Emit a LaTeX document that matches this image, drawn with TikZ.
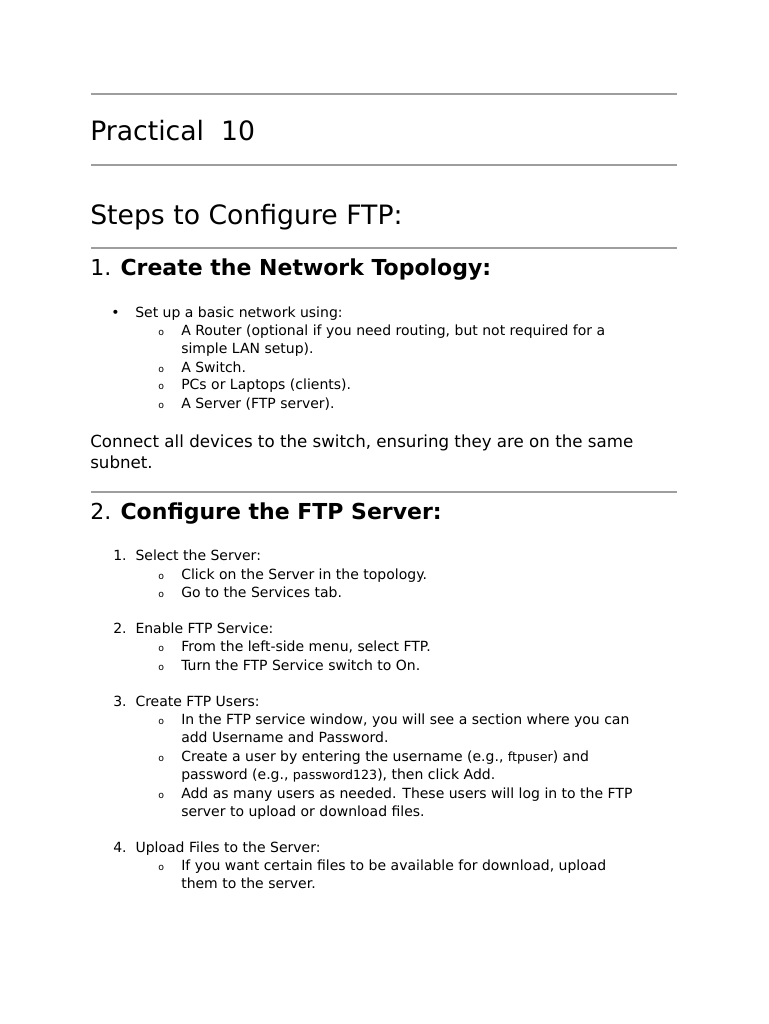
\documentclass[tikz,border=0pt]{standalone}
\usepackage{fontspec}
\setmainfont{DejaVu Sans}
\begin{document}
\begin{tikzpicture}[x=0.75pt,y=-0.75pt,
  rule/.style={draw=black!38,line width=1.5pt},
  t/.style={anchor=base west,inner sep=0pt,font=\fontsize{10.5}{12}\selectfont},
  sb/.style={anchor=base west,inner sep=0pt,font=\fontsize{7}{8}\selectfont},
  h1/.style={anchor=base west,inner sep=0pt,font=\fontsize{20}{24}\selectfont},
  h2/.style={anchor=base west,inner sep=0pt,font=\fontsize{16.5}{20}\selectfont},
  p/.style={anchor=base west,inner sep=0pt,font=\fontsize{12.5}{15}\selectfont}]
\useasboundingbox (0,0) rectangle (768,1024);
\fill[white] (0,0) rectangle (768,1024);
\draw[rule] (91,94) -- (677,94);
\draw[rule] (91,165) -- (677,165);
\draw[rule] (91,248) -- (677,248);
\draw[rule] (91,492) -- (677,492);
\node[h1] (pr) at (90,140) {Practical\ \ 10};
\node[h1] (st) at (90,224) {Steps to Configure FTP:};
\node[h2] (s1) at (90,275) {1. \textbf{Create the Network Topology:}};
\node[t] (b0) at (111,317) {•};
\node[t] (l0) at (135,317) {Set up a basic network using:};
\foreach \y/\s [count=\i] in {335/{A Router (optional if you need routing, but not required for a},372/{A Switch.},389/{PCs or Laptops (clients).},408/{A Server (FTP server).}}{
  \node[sb] (o\i) at (158,\y) {o};
  \node[t] (a\i) at (181,\y) {\s};}
\node[t] (a5) at (181,353) {simple LAN setup).};
\node[p] (c1) at (90,447) {Connect all devices to the switch, ensuring they are on the same};
\node[p] (c2) at (90,468) {subnet.};
\node[h2] (s2) at (90,519) {2. \textbf{Configure the FTP Server:}};
\foreach \y/\s [count=\i] in {560/{1.\ \ Select the Server:},633/{2.\ \ Enable FTP Service:},706/{3.\ \ Create FTP Users:},852/{4.\ \ Upload Files to the Server:}}{
  \node[t] (n\i) at (113,\y) {\s};}
\foreach \y/\s [count=\i] in {579/{Click on the Server in the topology.},597/{Go to the Services tab.},651/{From the left-side menu, select FTP.},670/{Turn the FTP Service switch to On.},724/{In the FTP service window, you will see a section where you can},761/{Create a user by entering the username (e.g., {\fontsize{9.5}{11}\selectfont ftpuser}) and},798/{Add as many users as needed. These users will log in to the FTP},870/{If you want certain files to be available for download, upload}}{
  \node[sb] (q\i) at (158,\y) {o};
  \node[t] (m\i) at (181,\y) {\s};}
\node[t] (r1) at (181,742) {add Username and Password.};
\node[t] (r2) at (181,779) {password (e.g., {\fontsize{9.5}{11}\selectfont password123}), then click Add.};
\node[t] (r3) at (181,816) {server to upload or download files.};
\node[t] (r4) at (181,888) {them to the server.};
\end{tikzpicture}
\end{document}
